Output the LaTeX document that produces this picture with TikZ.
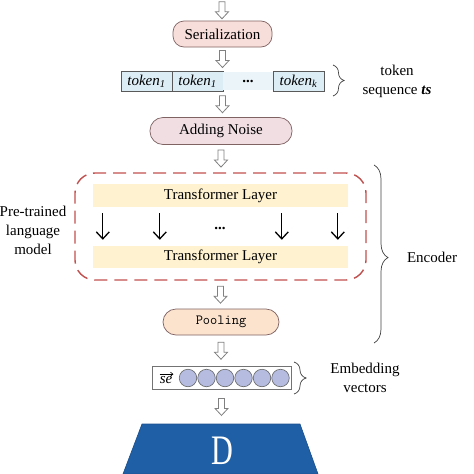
\documentclass[tikz,border=0pt]{standalone}
\usepackage{fontspec}
\setmainfont{Liberation Serif}
\usetikzlibrary{decorations.pathreplacing,calc,arrows.meta}
\definecolor{serfill}{HTML}{F8DEDA}
\definecolor{noisefill}{HTML}{F0DEE3}
\definecolor{poolfill}{HTML}{FBE3CE}
\definecolor{pillborder}{HTML}{7F6262}
\definecolor{tokfill}{HTML}{DCEDF5}
\definecolor{bandfill}{HTML}{EAF4F9}
\definecolor{tlfill}{HTML}{FEF2D0}
\definecolor{dashred}{HTML}{C0504D}
\definecolor{circfill}{HTML}{B5BCE0}
\definecolor{dfill}{HTML}{1F5FA6}
\definecolor{dborder}{HTML}{1A4E8A}
\begin{document}
\begin{tikzpicture}[x=1pt,y=1pt,
  font=\fontsize{15}{19}\selectfont,
  pill/.style={draw=pillborder, line width=0.7pt, inner sep=0pt},
  tokbox/.style={draw=black!65, line width=0.6pt, fill=tokfill, inner sep=0pt, minimum height=20pt},
  tlbox/.style={fill=tlfill, inner sep=0pt, minimum width=255pt},
  barr/.pic={\draw[draw=black!50, fill=white, line width=0.8pt, line join=miter]
     (-3,8.5) -- (3,8.5) -- (3,-1.5) -- (6.5,-1.5) -- (0,-8.5) -- (-6.5,-1.5) -- (-3,-1.5) -- cycle;},
  darr/.style={line width=1.3pt, -{Straight Barb[length=7pt,width=13pt]}},
  brc/.style={decorate, decoration={brace, amplitude=#1}, line width=0.7pt, black!75},
  circ/.style={circle, draw=black!60, fill=circfill, line width=0.6pt, minimum size=17.5pt, inner sep=0pt}]
\useasboundingbox (0,0) rectangle (474,-474);

% top free end
\coordinate (top) at (222,0);

% Serialization
\node[pill, fill=serfill, minimum width=99pt, minimum height=26pt, rounded corners=11pt] (ser) at (222.5,-34) {Serialization};

% tokens
\node[tokbox, minimum width=51pt] (t1) at (146.5,-81) {\textit{token}\textsubscript{\textit{1}}};
\node[tokbox, minimum width=51pt] (t2) at (197.5,-81) {\textit{token}\textsubscript{\textit{1}}};
\node[fill=bandfill, inner sep=0pt, minimum width=50pt, minimum height=18pt] (band) at (248,-81) {\textbf{...}};
\node[tokbox, minimum width=51pt] (tk) at (298.5,-81) {\textit{token}\textsubscript{\textit{k}}};
\draw[brc=11pt] (333,-65) -- (333,-96);
\node[align=center] (tsl) at (397,-81) {token\\sequence \textbf{\textit{ts}}};

% Adding Noise
\node[pill, fill=noisefill, minimum width=142pt, minimum height=27pt, rounded corners=13pt] (noise) at (221,-131) {Adding Noise};

% PLM dashed box
\node[draw=dashred, dash pattern=on 13pt off 7pt, line width=1.4pt, rounded corners=20pt,
  minimum width=291pt, minimum height=107pt, inner sep=0pt] (plm) at (220.5,-226.5) {};
\node[tlbox, minimum height=23pt] (tl1) at (220.5,-195.5) {Transformer Layer};
\node[tlbox, minimum height=22pt] (tl2) at (220.5,-257) {Transformer Layer};
\foreach \dx in {10,67,189,245}{
  \draw[darr] ([xshift=\dx pt,yshift=-6pt]tl1.south west) -- ([xshift=\dx pt,yshift=6pt]tl2.north west);
}
\node[anchor=base] (dots) at (220,-229) {\textbf{...}};
\node[align=center] (ptl) at (33,-230) {Pre-trained\\language\\model};

% Pooling
\node[pill, fill=poolfill, font=\ttfamily\fontsize{14}{16}\selectfont, minimum width=116pt, minimum height=26pt, rounded corners=13pt] (pool) at (221,-322) {Pooling};

% Encoder brace
\draw[brc=14pt, decoration={aspect=0.52}] (374,-165) -- (374,-343);
\node (enc) at (432,-257) {Encoder};

% Embedding
\node[draw=black!55, fill=white, line width=0.7pt, minimum width=139pt, minimum height=23pt, inner sep=0pt] (emb) at (221.5,-378) {};
\node[inner sep=0pt] (se) at (166,-380) {\textit{se}};
\draw[line width=0.6pt, -{Straight Barb[length=2.5pt,width=4pt]}] ([yshift=2pt]se.north west) -- ([yshift=2pt,xshift=1pt]se.north east);
\foreach \cx [count=\i] in {188,206.5,225,243.5,262,280.5}{
  \node[circ] (c\i) at (\cx,-378) {};
}
\draw[brc=12pt] (294,-362) -- (294,-394);
\node[align=center] (embl) at (365,-378) {Embedding\\vectors};

% D block
\draw[fill=dfill, draw=dborder, line width=0.6pt] (142,-424) -- (300,-424) -- (318,-474) -- (123,-474) -- cycle;
\coordinate (dtop) at (222,-424);
\node[text=white, font=\fontsize{42}{42}\selectfont] (D) at (222,-451) {\scalebox{0.72}[1]{D}};

% block arrows
\coordinate (m0) at ($(top)!0.5!(top |- ser.north)$);
\coordinate (m1) at ($(ser.south)!0.5!(ser.south |- t2.north)$);
\coordinate (m2) at ($(ser.south |- t2.south)!0.5!(ser.south |- noise.north)$);
\coordinate (m3) at ($(noise.south)!0.5!(noise.south |- plm.north)$);
\coordinate (m4) at ($(plm.south)!0.5!(plm.south |- pool.north)$);
\coordinate (m5) at ($(pool.south)!0.5!(pool.south |- emb.north)$);
\coordinate (m6) at ($(emb.south)!0.5!(emb.south |- dtop)$);
\foreach \m in {m0,m1,m2,m3,m4,m5,m6}{ \pic at (\m) {barr}; }
\end{tikzpicture}
\end{document}
